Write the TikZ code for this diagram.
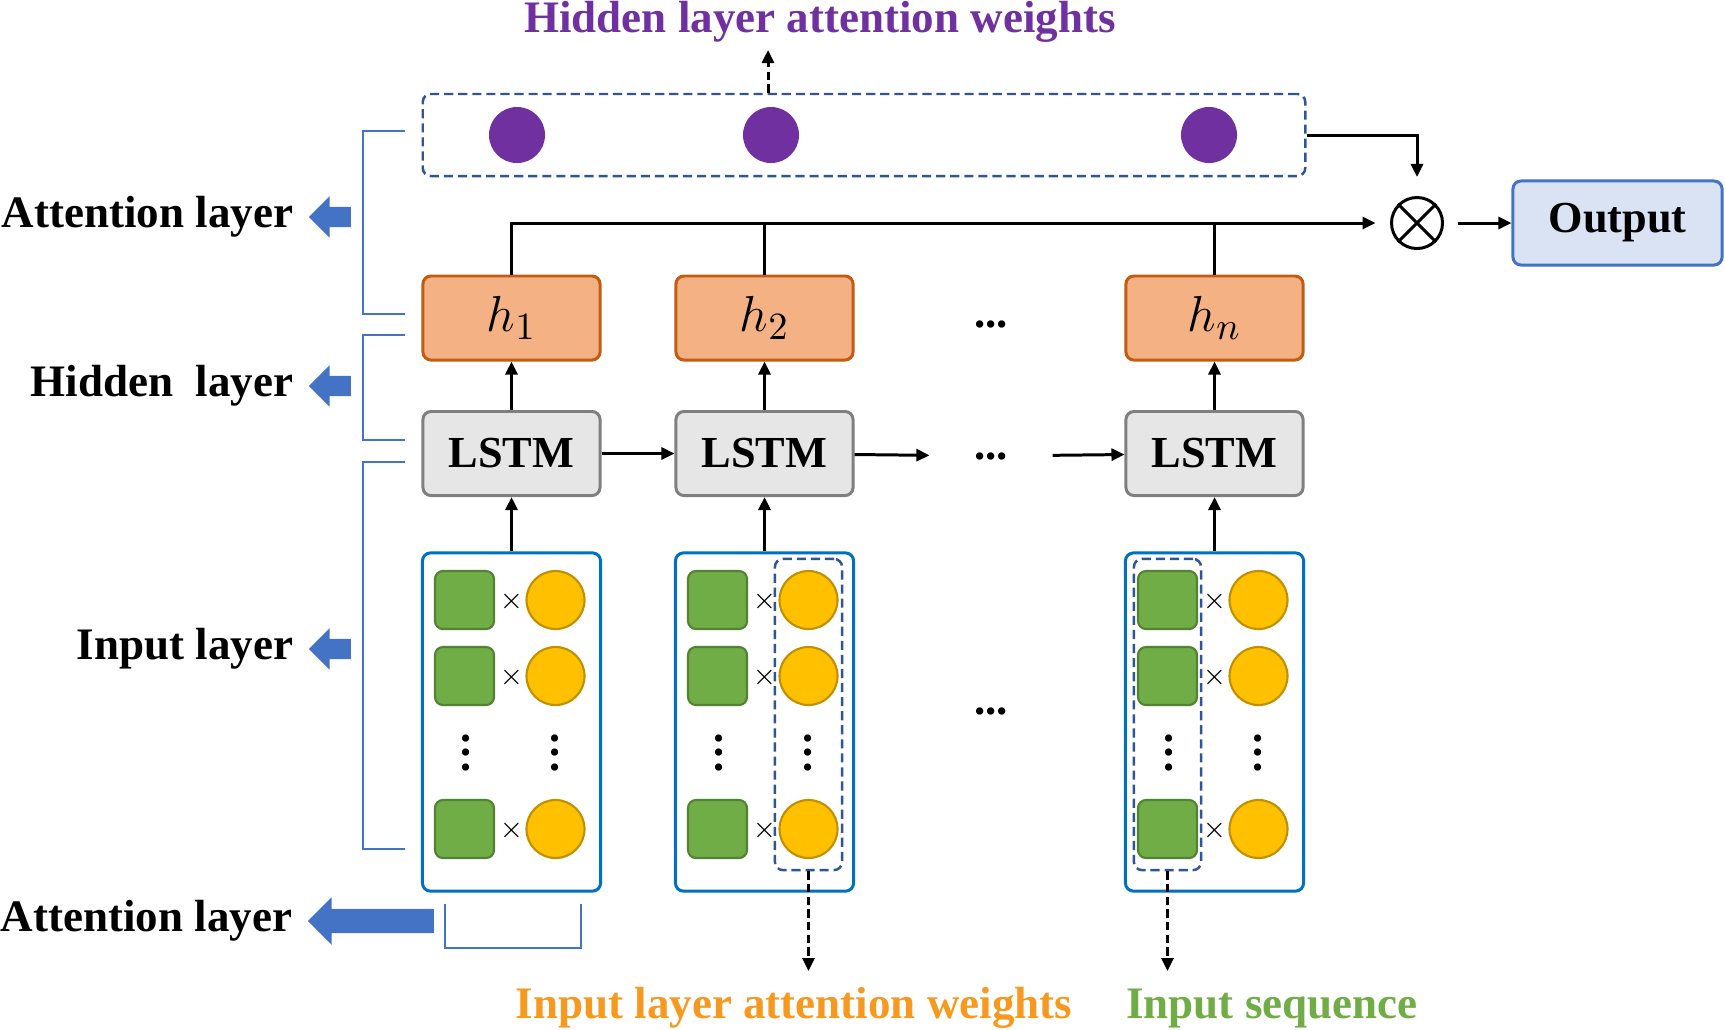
\documentclass[tikz,border=0pt]{standalone}
\usepackage{fontspec}
\setmainfont{Liberation Serif}
\usetikzlibrary{arrows.meta, positioning, fit, shapes.arrows}
\definecolor{attpurple}{RGB}{112,48,160}
\definecolor{weightorange}{RGB}{247,153,30}
\definecolor{seqgreen}{RGB}{112,173,71}
\definecolor{seqgreendark}{RGB}{84,130,53}
\definecolor{weightyellow}{RGB}{255,192,0}
\definecolor{weightyellowdark}{RGB}{191,144,0}
\definecolor{hiddenfill}{RGB}{244,177,131}
\definecolor{hiddendraw}{RGB}{197,90,17}
\definecolor{lstmfill}{RGB}{231,230,230}
\definecolor{lstmdraw}{RGB}{127,127,127}
\definecolor{inputblue}{RGB}{0,112,192}
\definecolor{outfill}{RGB}{218,227,243}
\definecolor{layerblue}{RGB}{68,114,196}
\definecolor{dashblue}{RGB}{47,85,151}
\tikzset{
  lab/.style={font=\fontsize{12.8}{15}\selectfont\bfseries, inner sep=0pt},
  hstate/.style={
    rectangle, rounded corners=0.08cm, minimum width=1.77cm, minimum height=0.84cm,
    draw=hiddendraw, fill=hiddenfill, line width=0.85pt, font=\fontsize{15}{18}\selectfont
  },
  lstm/.style={hstate, draw=lstmdraw, fill=lstmfill, font=\fontsize{12.6}{15}\selectfont\bfseries},
  output/.style={hstate, minimum width=2.09cm, draw=layerblue, fill=outfill,
    font=\fontsize{12.6}{15}\selectfont\bfseries},
  inputbox/.style={
    rectangle, rounded corners=0.08cm, minimum width=1.78cm, minimum height=3.38cm,
    draw=inputblue, fill=white, line width=0.85pt
  },
  seq/.style={
    rectangle, rounded corners=0.08cm, minimum width=0.59cm, minimum height=0.58cm,
    inner sep=0pt, draw=seqgreendark, fill=seqgreen, line width=0.6pt
  },
  weight/.style={circle, minimum size=0.58cm, inner sep=0pt,
    draw=weightyellowdark, fill=weightyellow, line width=0.6pt},
  hweight/.style={circle, minimum size=0.56cm, inner sep=0pt, fill=attpurple},
  timeslab/.style={inner sep=0pt, font=\fontsize{8.5}{9}\selectfont},
  vdotlab/.style={inner sep=0pt, anchor=base, font=\fontsize{12.6}{15}\selectfont\bfseries},
  hdotlab/.style={lab, inner xsep=0.44cm},
  dashbox/.style={rectangle, rounded corners=0.08cm, draw=dashblue, line width=0.7pt,
    dash pattern=on 2.6pt off 1.4pt},
  mulnode/.style={circle, minimum size=0.51cm, inner sep=0pt, draw, line width=0.85pt},
  layerarrow/.style={single arrow, shape border rotate=180, fill=layerblue,
    inner sep=0.095cm, single arrow head extend=0.105cm, minimum height=0.42cm},
  bracket/.style={draw=layerblue, line width=0.7pt},
  arrow/.style={-{Triangle[length=0.13cm, width=0.12cm]}, line width=0.85pt},
  dasharrow/.style={arrow, dash pattern=on 2.4pt off 1.2pt}
}
\begin{document}
\begin{tikzpicture}[x=0.01cm, y=-0.01cm]
  \useasboundingbox (0,0) rectangle (1725,1029);

  % hidden layer attention weights
  \node[lab, text=attpurple, anchor=base] (hlwlab) at (820,32) {Hidden layer attention weights};
  \coordinate (hlwend) at (768,50);
  \node[dashbox, minimum width=8.82cm, minimum height=0.82cm] (wbox) at (864,135) {};
  \node[hweight] (w1) at (517,135) {};
  \node[hweight] (w2) at (771,135) {};
  \node[hweight] (w3) at (1209,135) {};
  \node[mulnode] (mul) at (1417,223) {};
  \draw[line width=0.85pt] (mul.45) -- (mul.225) (mul.135) -- (mul.315);
  \node[output] (out) at (1617.5,223) {Output};

  % hidden states
  \node[hstate] (h1) at (511.5,318) {$h_1$};
  \node[hstate] (h2) at (764.5,318) {$h_2$};
  \node[lab] (hdots) at (991,324) {...};
  \node[hstate] (hn) at (1214.5,318) {$h_n$};

  % LSTM cells
  \node[lstm] (l1) at (511.5,453.5) {LSTM};
  \node[lstm] (l2) at (764.5,453.5) {LSTM};
  \node[hdotlab] (ldots) at (991,456) {...};
  \node[lstm] (ln) at (1214.5,453.5) {LSTM};

  % input boxes
  \node[inputbox] (in1) at (511.5,722) {};
  \node[inputbox] (in2) at (764.5,722) {};
  \node[lab] (idots) at (991,711) {...};
  \node[inputbox] (inn) at (1214.5,722) {};

  \node[seq] (sq11) at (464.5,600) {};
  \node[timeslab] (tm11) at (511.5,601) {$\times$};
  \node[weight] (wc11) at (555.5,600) {};
  \node[seq] (sq12) at (464.5,676) {};
  \node[timeslab] (tm12) at (511.5,677) {$\times$};
  \node[weight] (wc12) at (555.5,676) {};
  \node[vdotlab] (vs1) at (466.5,770) {$\vdots$};
  \node[vdotlab] (vw1) at (555.5,770) {$\vdots$};
  \node[seq] (sq13) at (464.5,829) {};
  \node[timeslab] (tm13) at (511.5,830) {$\times$};
  \node[weight] (wc13) at (555.5,829) {};

  \node[seq] (sq21) at (717.5,600) {};
  \node[timeslab] (tm21) at (764.5,601) {$\times$};
  \node[weight] (wc21) at (808.5,600) {};
  \node[seq] (sq22) at (717.5,676) {};
  \node[timeslab] (tm22) at (764.5,677) {$\times$};
  \node[weight] (wc22) at (808.5,676) {};
  \node[vdotlab] (vs2) at (719.5,770) {$\vdots$};
  \node[vdotlab] (vw2) at (808.5,770) {$\vdots$};
  \node[seq] (sq23) at (717.5,829) {};
  \node[timeslab] (tm23) at (764.5,830) {$\times$};
  \node[weight] (wc23) at (808.5,829) {};

  \node[seq] (sq31) at (1167.5,600) {};
  \node[timeslab] (tm31) at (1214.5,601) {$\times$};
  \node[weight] (wc31) at (1258.5,600) {};
  \node[seq] (sq32) at (1167.5,676) {};
  \node[timeslab] (tm32) at (1214.5,677) {$\times$};
  \node[weight] (wc32) at (1258.5,676) {};
  \node[vdotlab] (vs3) at (1169.5,770) {$\vdots$};
  \node[vdotlab] (vw3) at (1258.5,770) {$\vdots$};
  \node[seq] (sq33) at (1167.5,829) {};
  \node[timeslab] (tm33) at (1214.5,830) {$\times$};
  \node[weight] (wc33) at (1258.5,829) {};

  \node[dashbox, fit=(wc21)(wc23), inner xsep=0.035cm, inner ysep=0.11cm] (iw2) {};
  \node[dashbox, fit=(sq31)(sq33), inner xsep=0.03cm, inner ysep=0.11cm] (is3) {};
  \coordinate (iwend) at (808.5,971);
  \coordinate (isend) at (1167.5,971);
  \node[lab, text=weightorange, anchor=base] (iwlab) at (794,1018) {Input layer attention weights};
  \node[lab, text=seqgreen, anchor=base] (islab) at (1272,1018) {Input sequence};

  % layer labels
  \node[layerarrow] (aatt) at (335,217) {};
  \node[lab, left=0.14cm of aatt.tip] (attlab) {Attention layer};
  \node[layerarrow] (ahid) at (335,386) {};
  \node[lab, left=0.14cm of ahid.tip] (hidlab) {Hidden\ \ layer};
  \node[layerarrow] (ainp) at (335,649) {};
  \node[lab, left=0.14cm of ainp.tip] (inplab) {Input layer};
  \node[layerarrow, minimum height=1.26cm, inner sep=0.115cm,
        single arrow head extend=0.115cm] (abot) at (377,921) {};
  \node[lab, left=0.14cm of abot.tip] (botlab) {Attention layer};

  \draw[bracket] (405,131) -| (363,314) -- (405,314);
  \draw[bracket] (405,335) -| (363,440) -- (405,440);
  \draw[bracket] (405,462) -| (363,849) -- (405,849);
  \draw[bracket] (445,904) |- (581,948) -- (581,904);

  % connectors
  \draw[dasharrow] (hlwend |- wbox.north) -- (hlwend);
  \draw[arrow, shorten >=0.19cm] (wbox.east) -| (mul.north);
  \draw[arrow, shorten >=0.145cm] (h1.north) |- (mul.west);
  \draw[line width=0.85pt] (h2.north) -- (h2.north |- mul.west);
  \draw[line width=0.85pt] (hn.north) -- (hn.north |- mul.west);
  \draw[arrow, shorten <=0.14cm] (mul) -- (out);
  \draw[arrow] (l1) -- (h1);
  \draw[arrow] (l2) -- (h2);
  \draw[arrow] (ln) -- (hn);
  \draw[arrow] (l1) -- (l2);
  \draw[arrow] (l2) -- (ldots);
  \draw[arrow] (ldots) -- (ln);
  \draw[arrow] (in1) -- (l1);
  \draw[arrow] (in2) -- (l2);
  \draw[arrow] (inn) -- (ln);
  \draw[dasharrow] (iw2.south) -- (iwend);
  \draw[dasharrow] (is3.south) -- (isend);
\end{tikzpicture}
\end{document}
